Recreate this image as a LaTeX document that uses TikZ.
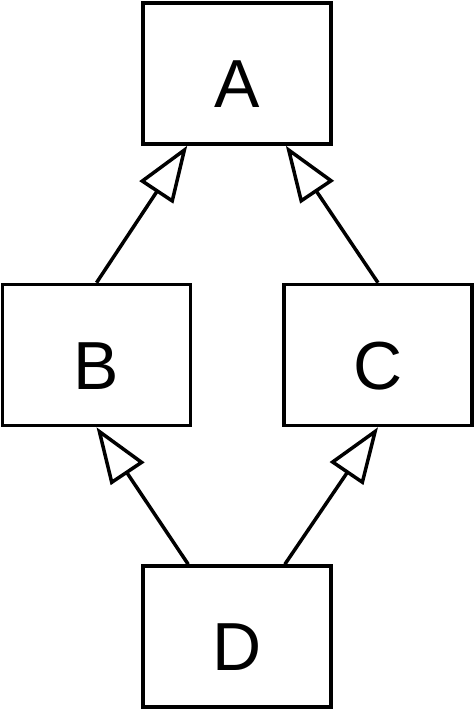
\documentclass[tikz,border=0pt]{standalone}
\usepackage{fontspec}
\setmainfont{Liberation Sans}
\usetikzlibrary{arrows.meta,calc}
\newcommand\lowlabel[1]{\raisebox{-34.5pt}[0pt][0pt]{#1}}
\begin{document}
\begin{tikzpicture}[x=1pt,y=1pt,
  box/.style={draw=black,line width=3.5pt,minimum width=188pt,minimum height=141pt,inner sep=0pt,
    font=\fontsize{68}{80}\selectfont},
  inherit/.style={line width=3.5pt,-{Triangle[open,length=56pt,width=40pt,line width=3.5pt]}}]
\useasboundingbox (0,0) rectangle (474,711);
\node[box] (A) at (237,637.5) {\lowlabel{A}};
\node[box] (B) at (96.5,356) {\lowlabel{B}};
\node[box] (C) at (378,356) {\lowlabel{C}};
\node[box] (D) at (237,74.5) {\lowlabel{D}};
\coordinate (Aleft) at ($(A.south west)!0.24!(A.south east)$);
\coordinate (Aright) at ($(A.south west)!0.755!(A.south east)$);
\coordinate (Dleft) at ($(D.north west)!0.245!(D.north east)$);
\coordinate (Dright) at ($(D.north west)!0.75!(D.north east)$);
\draw[inherit] (B.north) -- (Aleft);
\draw[inherit] (C.north) -- (Aright);
\draw[inherit] (Dleft) -- (B.south);
\draw[inherit] (Dright) -- (C.south);
\end{tikzpicture}
\end{document}
